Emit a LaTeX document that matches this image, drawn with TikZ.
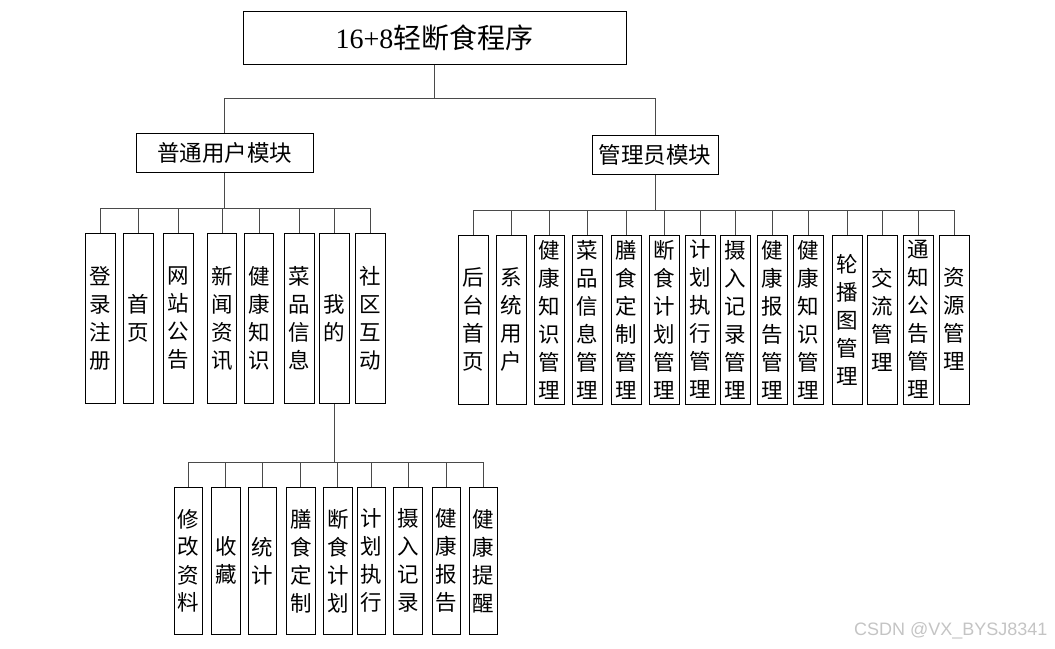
\documentclass[tikz,border=0pt]{standalone}
\usepackage{fontspec}
\setmainfont{Liberation Serif}
\newfontfamily\cjk{Noto Sans CJK SC}
\newfontfamily\wmfont{Liberation Sans}
\definecolor{OrgLine}{HTML}{4A4A4A}
\definecolor{OrgMark}{HTML}{C4C4C4}

\tikzset{
  rootbox/.style={draw,line width=1pt,inner sep=0pt,minimum width=383,minimum height=53},
  modbox/.style={draw,line width=1pt,inner sep=0pt,minimum height=39,font=\cjk\fontsize{22.5}{25}\selectfont},
  colbox/.style={draw,line width=1pt,inner sep=0pt,minimum width=30,align=center,font=\cjk\fontsize{21.5}{28}\selectfont},
  linkline/.style={OrgLine,line width=1pt},
}

\begin{document}
\begin{tikzpicture}[x=1pt,y=-1pt]
\path[use as bounding box] (0,0) rectangle (1055,648);
% top level
\node[rootbox] (root) at (434.5,37.5) {\fontsize{28}{32}\selectfont 16+8{\cjk 轻断食程序}};
\node[modbox,minimum width=177] (user) at (224.5,152.5) {普通用户模块};
\node[modbox,minimum width=126] (admin) at (655,154.5) {管理员模块};
\coordinate (j0) at (434.5,98);
\draw[linkline] (root.south) -- (j0);
\draw[linkline] (user.north) |- (j0);
\draw[linkline] (admin.north) |- (j0);
% user module
\node[colbox,minimum height=170] (u1) at (100.3,318.3) {登\\录\\注\\册};
\node[colbox,minimum height=170] (u2) at (138.7,318.3) {首\\页};
\node[colbox,minimum height=170] (u3) at (178.3,318.3) {网\\站\\公\\告};
\node[colbox,minimum height=170,minimum width=28.5] (u4) at (222.2,318.3) {新\\闻\\资\\讯};
\node[colbox,minimum height=170,minimum width=28.5] (u5) at (259,318.3) {健\\康\\知\\识};
\node[colbox,minimum height=170] (u6) at (299.3,318.3) {菜\\品\\信\\息};
\node[colbox,minimum height=170] (u7) at (334.7,318.3) {我\\的};
\node[colbox,minimum height=170] (u8) at (370.3,318.3) {社\\区\\互\\动};
\coordinate (ubar) at (224.5,208);
\draw[linkline] (user.south) -- (ubar);
\foreach \n in {u1,u2,u3,u4,u5,u6,u7,u8}
  \draw[linkline] (\n.north) |- (ubar);
% admin module
\node[colbox,minimum height=169] (a1) at (473,319.5) {后\\台\\首\\页};
\node[colbox,minimum height=169] (a2) at (511,319.5) {系\\统\\用\\户};
\node[colbox,minimum height=169] (a3) at (549.3,319.5) {健\\康\\知\\识\\管\\理};
\node[colbox,minimum height=169] (a4) at (587.7,319.5) {菜\\品\\信\\息\\管\\理};
\node[colbox,minimum height=169] (a5) at (626.3,319.5) {膳\\食\\定\\制\\管\\理};
\node[colbox,minimum height=169] (a6) at (664.3,319.5) {断\\食\\计\\划\\管\\理};
\node[colbox,minimum height=169] (a7) at (700.7,319.5) {计\\划\\执\\行\\管\\理};
\node[colbox,minimum height=169] (a8) at (735.3,319.5) {摄\\入\\记\\录\\管\\理};
\node[colbox,minimum height=169] (a9) at (772.3,319.5) {健\\康\\报\\告\\管\\理};
\node[colbox,minimum height=169] (a10) at (808.3,319.5) {健\\康\\知\\识\\管\\理};
\node[colbox,minimum height=169] (a11) at (847.3,319.5) {轮\\播\\图\\管\\理};
\node[colbox,minimum height=169] (a12) at (882,319.5) {交\\流\\管\\理};
\node[colbox,minimum height=169] (a13) at (918.3,319.5) {通\\知\\公\\告\\管\\理};
\node[colbox,minimum height=169] (a14) at (954.7,319.5) {资\\源\\管\\理};
\coordinate (abar) at (655,210);
\draw[linkline] (admin.south) -- (abar);
\foreach \n in {a1,a2,a3,a4,a5,a6,a7,a8,a9,a10,a11,a12,a13,a14}
  \draw[linkline] (\n.north) |- (abar);
% my page
\node[colbox,minimum height=147,minimum width=28.5] (m1) at (188.5,560.8) {修\\改\\资\\料};
\node[colbox,minimum height=147,minimum width=28.5] (m2) at (225.8,560.8) {收\\藏};
\node[colbox,minimum height=147,minimum width=28.5] (m3) at (262.5,560.8) {统\\计};
\node[colbox,minimum height=147,minimum width=28.5] (m4) at (300.8,560.8) {膳\\食\\定\\制};
\node[colbox,minimum height=147,minimum width=28.5] (m5) at (337.8,560.8) {断\\食\\计\\划};
\node[colbox,minimum height=147,minimum width=28.5] (m6) at (371.5,560.8) {计\\划\\执\\行};
\node[colbox,minimum height=147,minimum width=28.5] (m7) at (408.2,560.8) {摄\\入\\记\\录};
\node[colbox,minimum height=147,minimum width=28.5] (m8) at (446.7,560.8) {健\\康\\报\\告};
\node[colbox,minimum height=147,minimum width=28.5] (m9) at (483.5,560.8) {健\\康\\提\\醒};
\coordinate (mbar) at (334.7,462.3);
\draw[linkline] (u7.south) -- (mbar);
\foreach \n in {m1,m2,m3,m4,m5,m6,m7,m8,m9}
  \draw[linkline] (\n.north) |- (mbar);
% watermark
\node[anchor=east,text=OrgMark,font=\wmfont\fontsize{18}{20}\selectfont] (wm) at (1051,631) {CSDN @VX\_BYSJ8341};
\end{tikzpicture}
\end{document}
